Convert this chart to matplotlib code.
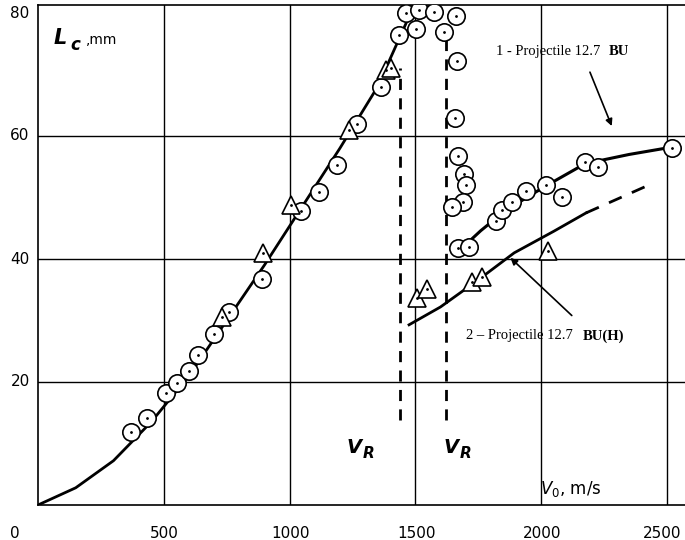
import matplotlib
matplotlib.use("Agg")
import matplotlib.pyplot as plt

# circles (projectile 1) and triangles (projectile 2), V0 m/s vs Lc mm
circ_v = [371, 434, 509, 553, 601, 636, 700, 759, 891, 1046, 1117, 1189, 1268, 1364,
          1435, 1463, 1503, 1515, 1575, 1614, 1662, 1666, 1658, 1670, 1694, 1702, 1690,
          1646, 1670, 1714, 1821, 1845, 1885, 1940, 2020, 2083, 2175, 2227, 2521]
circ_l = [11.9, 14.1, 18.2, 19.8, 21.8, 24.4, 27.8, 31.4, 36.7, 47.8, 50.9, 55.3, 62.0, 68.0,
          76.4, 80.0, 77.4, 80.5, 80.2, 76.9, 79.5, 72.2, 62.9, 56.7, 53.8, 52.0, 49.3,
          48.5, 41.8, 42.0, 46.2, 48.0, 49.3, 51.1, 52.0, 50.1, 55.8, 55.0, 58.0]
tri_v = [732, 895, 1006, 1237, 1385, 1405, 1507, 1547, 1726, 1765, 2028]
tri_l = [30.6, 41.0, 48.8, 61.0, 70.8, 71.0, 33.7, 35.1, 36.3, 37.1, 41.3]

curve_a_v = [0, 150, 300, 450, 600, 750, 900, 1050, 1200, 1350, 1465]
curve_a_l = [0, 2.8, 7.2, 13.5, 21, 30, 39, 48.5, 58, 68, 78.5]
curve_1_v = [1694, 1760, 1850, 1950, 2050, 2175, 2350, 2521]
curve_1_l = [42.1, 44.6, 47.6, 50.2, 52.6, 55.5, 57.0, 58.2]
curve_2_v = [1475, 1600, 1750, 1893, 2050, 2179]
curve_2_l = [29.3, 32.2, 36.6, 41.0, 44.5, 47.5]
dash_2_v = [2179, 2449]
dash_2_l = [47.5, 52.4]
vr1, vr2 = 1440, 1622

serif = "Liberation Serif"
fig = plt.figure(figsize=(6.85, 5.4), dpi=100)
ax = fig.add_axes([38 / 685, 35 / 540, 647 / 685, 500 / 540])
ax.set_xlim(0, 2572)
ax.set_ylim(0, 81.3)

for v in [500, 1000, 1500, 2000, 2500]:
    ax.axvline(v, color="black", lw=1.0, zorder=0)
for l in [20, 40, 60]:
    ax.axhline(l, color="black", lw=1.0, zorder=0)

ax.plot(curve_a_v, curve_a_l, color="black", lw=2)
ax.plot(curve_1_v, curve_1_l, color="black", lw=2.2)
ax.plot(curve_2_v, curve_2_l, color="black", lw=2)
ax.plot(dash_2_v, dash_2_l, color="black", lw=2, ls=(0, (5, 4)))
ax.plot([vr1, vr1], [13.8, 71], color="black", lw=2, ls=(0, (4, 3)))
ax.plot([vr2, vr2], [13.8, 76.5], color="black", lw=2, ls=(0, (4, 3)))

ax.plot(circ_v, circ_l, "o", ms=12.5, mfc="white", mec="black", mew=1.2, zorder=3)
ax.plot(tri_v, tri_l, "^", ms=12.5, mfc="white", mec="black", mew=1.2, zorder=4)
ax.plot(circ_v + tri_v, circ_l + tri_l, ".", ms=2, color="black", zorder=5)

ax.spines["right"].set_visible(False)
for s in ["left", "bottom", "top"]:
    ax.spines[s].set_linewidth(1.2)
ax.set_xticks([])
ax.set_yticks([])
for v in [0, 500, 1000, 1500, 2000, 2500]:
    x = 15 if v == 0 else min(39 + 0.2515 * v, 662)
    fig.text(x / 685, 1 - 533 / 540, str(v), ha="center", va="center", fontsize=11)
for l in [20, 40, 60, 80]:
    fig.text(20 / 685, 1 - (505 - 6.15 * l) / 540, str(l), ha="center", va="center", fontsize=11)

ax.text(60, 76, "L", fontsize=15, style="italic", weight="bold", ha="left", va="center")
ax.text(128, 74.8, "c", fontsize=12, style="italic", weight="bold", ha="left", va="center")
ax.text(190, 75.6, ",mm", fontsize=10, ha="left", va="center")
ax.text(1995, 2.6, "$V_0$, m/s", fontsize=12, ha="left", va="center")
for x in [vr1 - 215, vr2 - 10]:
    ax.text(x, 9.4, "V", fontsize=14, style="italic", weight="bold", ha="left", va="center")
    ax.text(x + 65, 8.4, "R", fontsize=11, style="italic", weight="bold", ha="left", va="center")

ax.text(1820, 73.8, "1 - Projectile 12.7", family=serif, fontsize=10.5, ha="left", va="center")
ax.text(2270, 73.8, "BU", family=serif, fontsize=10.5, weight="bold", ha="left", va="center")
ax.text(1700, 27.5, "2 \u2013 Projectile 12.7", family=serif, fontsize=10.5, ha="left", va="center")
ax.text(2165, 27.5, "BU(H)", family=serif, fontsize=10.5, weight="bold", ha="left", va="center")
ax.annotate("", xy=(2285, 61.2), xytext=(2190, 70.8),
            arrowprops=dict(arrowstyle="-|>", color="black", lw=1.2))
ax.annotate("", xy=(1870, 40.5), xytext=(2130, 30.5),
            arrowprops=dict(arrowstyle="-|>", color="black", lw=1.2))

fig.savefig("out.png", dpi=100)
